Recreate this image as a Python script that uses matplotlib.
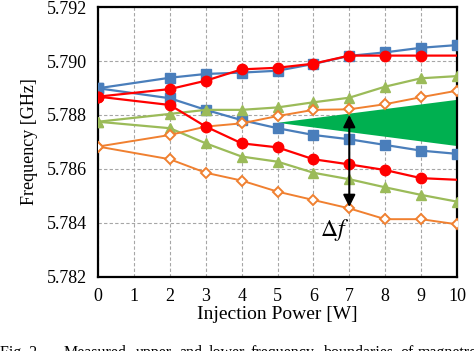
#!/usr/bin/env python3

import matplotlib
matplotlib.use("Agg")
import matplotlib.pyplot as plt

plt.rcParams['font.family'] = ['Liberation Serif', 'DejaVu Serif']
plt.rcParams['mathtext.fontset'] = 'stix'

power = [0, 2, 3, 4, 5, 6, 7, 8, 9, 10]

blue_upper = [5.78899, 5.78938, 5.78952, 5.78957, 5.78964, 5.78989, 5.79019, 5.79032, 5.79049, 5.79059]
blue_lower = [5.78899, 5.78862, 5.78819, 5.78781, 5.78751, 5.78726, 5.78710, 5.78689, 5.78668, 5.78656]
red_upper = [5.78868, 5.78896, 5.78927, 5.78969, 5.78975, 5.78990, 5.79020, 5.79020, 5.79020, 5.79020]
red_lower = [5.78868, 5.78837, 5.78757, 5.78695, 5.78680, 5.78636, 5.78617, 5.78596, 5.78566, 5.78560]
green_upper = [5.78775, 5.78804, 5.78819, 5.78819, 5.78828, 5.78847, 5.78864, 5.78905, 5.78936, 5.78944]
green_lower = [5.78775, 5.78751, 5.78695, 5.78646, 5.78627, 5.78586, 5.78562, 5.78532, 5.78504, 5.78479]
orange_upper = [5.78683, 5.78726, 5.78757, 5.78769, 5.78796, 5.78819, 5.78821, 5.78840, 5.78866, 5.78890]
orange_lower = [5.78683, 5.78636, 5.78586, 5.78557, 5.78516, 5.78485, 5.78454, 5.78414, 5.78414, 5.78395]

# green wedge: apex at 5 W, opens up to 10 W
wedge_x = [5, 10, 10]
wedge_y = [5.78771, 5.78856, 5.78685]

# delta f arrow at 7 W
arrow_x = 7
arrow_top = 5.7880
arrow_bottom = 5.78459

xticks = list(range(11))
yticks = [5.782, 5.784, 5.786, 5.788, 5.790, 5.792]

caption_words = ['Fig. 2.', 'Measured', 'upper', 'and', 'lower',
                 'frequency', 'boundaries', 'of', 'magnetrons']

fig = plt.figure(figsize=(4.74, 3.51), dpi=100)
ax = fig.add_axes([0.207, 0.211, 0.757, 0.769])

ax.grid(True, color='#a6a6a6', linestyle=(0, (3, 2)), linewidth=0.8)
ax.set_axisbelow(True)

ax.fill(wedge_x, wedge_y, color='#00b050', zorder=2, linewidth=0)

blue = '#4a7ebb'
red = '#ff0000'
green = '#9bbb59'
orange = '#f08030'

for ys in (blue_upper, blue_lower):
    ax.plot(power, ys, '-', color=blue, lw=1.6, marker='s', ms=6.5, zorder=3)
for ys in (green_upper, green_lower):
    ax.plot(power, ys, '-', color=green, lw=1.6, marker='^', ms=7, zorder=3)
for ys in (orange_upper, orange_lower):
    ax.plot(power, ys, '-', color=orange, lw=1.4, marker='D', ms=5,
            mfc='white', mec=orange, mew=1.4, zorder=3)
for ys in (red_upper, red_lower):
    ax.plot(power, ys, '-', color=red, lw=1.6, marker='o', ms=7.5,
            markevery=list(range(9)), zorder=4)

ax.annotate('', xy=(arrow_x, arrow_top), xytext=(arrow_x, arrow_bottom),
            arrowprops=dict(arrowstyle='<|-|>', color='black', lw=1.5,
                            mutation_scale=18, shrinkA=0, shrinkB=0), zorder=5)
ax.text(6.6, 5.78374, r'$\mathit{\Delta f}$', fontsize=17, ha='center', va='center')

ax.set_xlim(0, 10)
ax.set_ylim(5.782, 5.792)
ax.set_xticks(xticks)
ax.set_yticks(yticks)
ax.set_yticklabels(['%.3f' % v for v in yticks])
ax.tick_params(length=0, labelsize=13, pad=8)
for s in ax.spines.values():
    s.set_color('black')
    s.set_linewidth(1.6)

ax.set_xlabel('Injection Power [W]', fontsize=14, labelpad=1)
ax.set_ylabel('Frequency [GHz]', fontsize=13, labelpad=6)

# justified caption, cut off by the bottom edge as in the source scan
word_x = [0, 64, 136, 180, 209, 251, 324, 400, 418]
for w, px in zip(caption_words, word_x):
    fig.text(px / 474, -0.016, w, fontsize=11.5, ha='left', va='baseline')

fig.savefig('out.png', dpi=100)
